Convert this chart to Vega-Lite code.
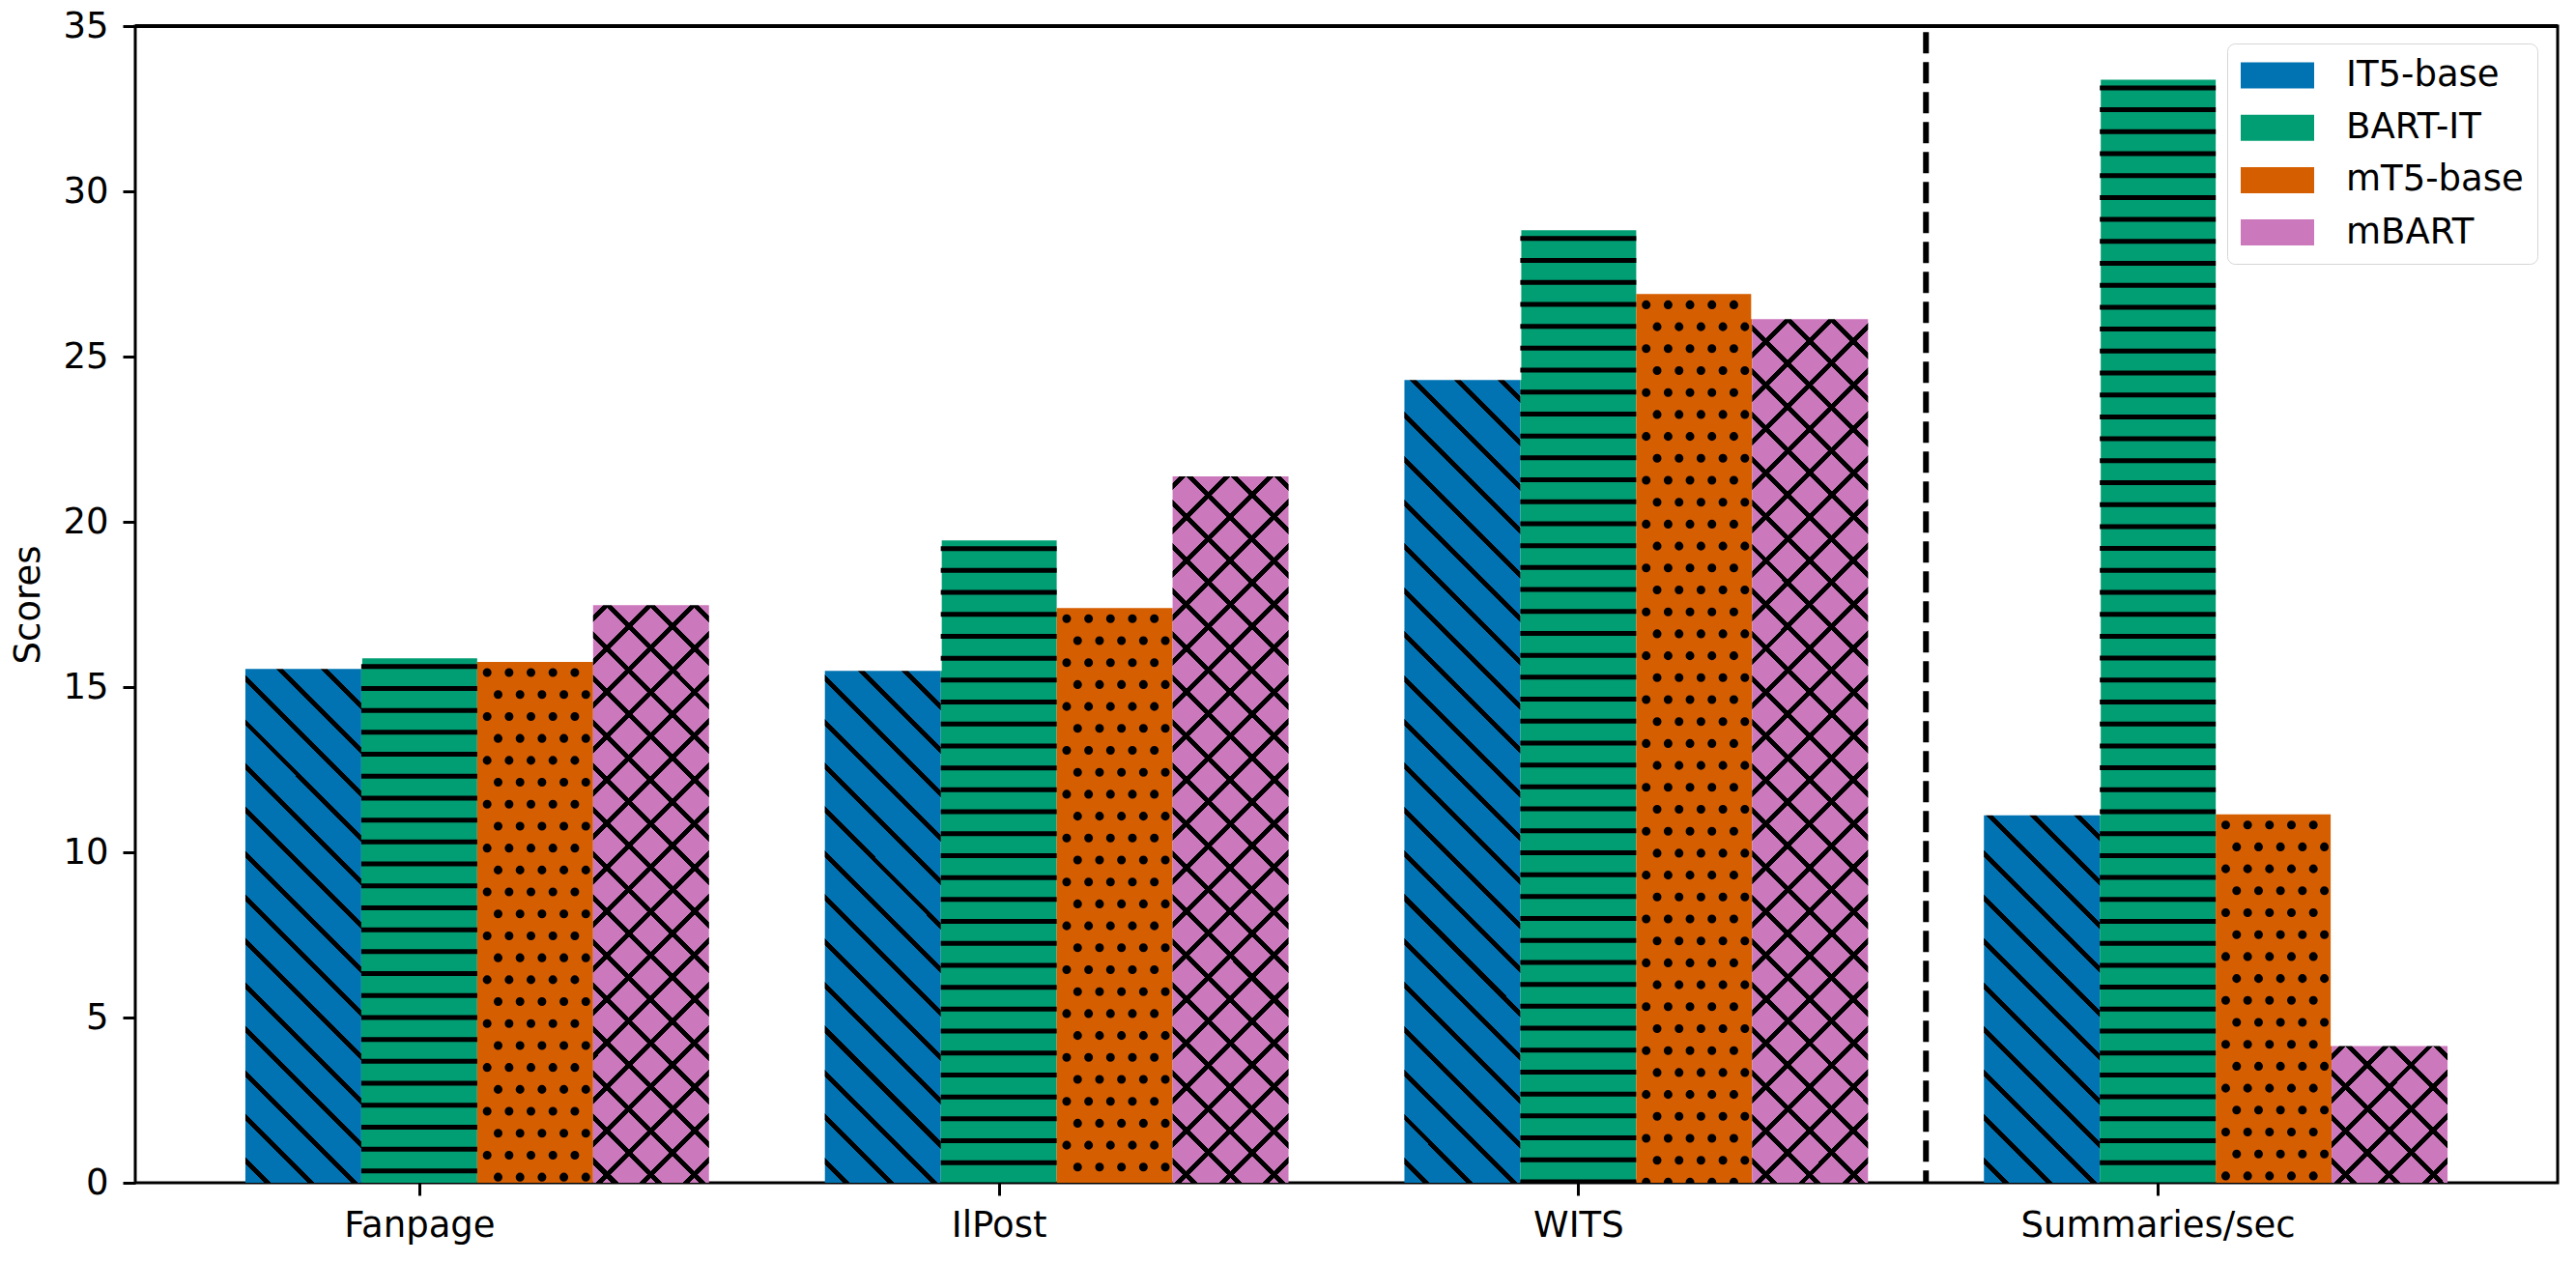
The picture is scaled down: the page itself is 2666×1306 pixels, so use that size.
{
  "$schema": "https://vega.github.io/schema/vega-lite/v6.json",
  "width": 2507,
  "height": 1197,
  "autosize": {"type": "none"},
  "padding": {"left": 140, "top": 27, "right": 19, "bottom": 82},
  "background": "white",
  "config": {
    "view": {"stroke": "#000", "strokeWidth": 3},
    "axis": {
      "labelFont": "DejaVu Sans", "labelFontSize": 37, "labelColor": "#000", "labelLimit": 1000,
      "titleFont": "DejaVu Sans", "titleFontSize": 37, "titleFontWeight": "normal", "titleColor": "#000",
      "tickColor": "#000", "tickWidth": 3, "tickSize": 13, "domain": false, "grid": false
    }
  },
  "data": {
    "values": [
      {"dataset": "Fanpage", "model": "IT5-base", "score": 15.58},
      {"dataset": "Fanpage", "model": "BART-IT", "score": 15.87},
      {"dataset": "Fanpage", "model": "mT5-base", "score": 15.76},
      {"dataset": "Fanpage", "model": "mBART", "score": 17.51},
      {"dataset": "IlPost", "model": "IT5-base", "score": 15.52},
      {"dataset": "IlPost", "model": "BART-IT", "score": 19.44},
      {"dataset": "IlPost", "model": "mT5-base", "score": 17.39},
      {"dataset": "IlPost", "model": "mBART", "score": 21.40},
      {"dataset": "WITS", "model": "IT5-base", "score": 24.32},
      {"dataset": "WITS", "model": "BART-IT", "score": 28.82},
      {"dataset": "WITS", "model": "mT5-base", "score": 26.89},
      {"dataset": "WITS", "model": "mBART", "score": 26.16},
      {"dataset": "Summaries/sec", "model": "IT5-base", "score": 11.15},
      {"dataset": "Summaries/sec", "model": "BART-IT", "score": 33.38},
      {"dataset": "Summaries/sec", "model": "mT5-base", "score": 11.15},
      {"dataset": "Summaries/sec", "model": "mBART", "score": 4.17}
    ]
  },
  "layer": [
    {
      "mark": {"type": "bar"},
      "encoding": {
        "x": {
          "field": "dataset", "type": "nominal", "title": null,
          "scale": {"domain": ["Fanpage", "IlPost", "WITS", "Summaries/sec"], "paddingInner": 0.2, "paddingOuter": 0.19},
          "axis": {"labelAngle": 0, "labelPadding": 13, "tickOffset": -60}
        },
        "xOffset": {
          "field": "model", "type": "nominal",
          "scale": {"domain": ["IT5-base", "BART-IT", "mT5-base", "mBART"], "paddingInner": 0, "paddingOuter": 0}
        },
        "y": {
          "field": "score", "type": "quantitative", "title": "Scores",
          "scale": {"domain": [0, 35], "nice": false},
          "axis": {"values": [0, 5, 10, 15, 20, 25, 30, 35], "labelPadding": 15, "titlePadding": 16}
        },
        "color": {
          "field": "model", "type": "nominal",
          "scale": {"domain": ["IT5-base", "BART-IT", "mT5-base", "mBART"], "range": ["#0173b2", "#029e73", "#d55e00", "#cc78bc"]},
          "legend": {
            "title": null, "orient": "none", "legendX": 2165, "legendY": 18,
            "labelFont": "DejaVu Sans", "labelFontSize": 37, "labelColor": "#000", "labelLimit": 1000,
            "symbolType": "M-1,-0.71H3V0.71H-1Z", "symbolSize": 1444, "symbolStrokeWidth": 0,
            "labelOffset": 71, "rowPadding": 17.2, "padding": 14,
            "strokeColor": "#d6d6d6", "fillColor": "#fff", "cornerRadius": 8
          }
        }
      }
    },
    {
      "transform": [{"filter": "datum.model === 'IT5-base' || datum.model === 'mBART'"}],
      "mark": {
        "type": "bar",
        "fill": {
          "gradient": "linear", "x1": 0, "y1": 1, "x2": 0.1092, "y2": -0.0893,
          "stops": [
            {"offset": 0.0145, "color": "rgba(0,0,0,0)"}, {"offset": 0.0145, "color": "#000"}, {"offset": 0.0199, "color": "#000"}, {"offset": 0.0199, "color": "rgba(0,0,0,0)"},
            {"offset": 0.0490, "color": "rgba(0,0,0,0)"}, {"offset": 0.0490, "color": "#000"}, {"offset": 0.0543, "color": "#000"}, {"offset": 0.0543, "color": "rgba(0,0,0,0)"},
            {"offset": 0.0835, "color": "rgba(0,0,0,0)"}, {"offset": 0.0835, "color": "#000"}, {"offset": 0.0888, "color": "#000"}, {"offset": 0.0888, "color": "rgba(0,0,0,0)"},
            {"offset": 0.1179, "color": "rgba(0,0,0,0)"}, {"offset": 0.1179, "color": "#000"}, {"offset": 0.1233, "color": "#000"}, {"offset": 0.1233, "color": "rgba(0,0,0,0)"},
            {"offset": 0.1524, "color": "rgba(0,0,0,0)"}, {"offset": 0.1524, "color": "#000"}, {"offset": 0.1577, "color": "#000"}, {"offset": 0.1577, "color": "rgba(0,0,0,0)"},
            {"offset": 0.1869, "color": "rgba(0,0,0,0)"}, {"offset": 0.1869, "color": "#000"}, {"offset": 0.1922, "color": "#000"}, {"offset": 0.1922, "color": "rgba(0,0,0,0)"},
            {"offset": 0.2213, "color": "rgba(0,0,0,0)"}, {"offset": 0.2213, "color": "#000"}, {"offset": 0.2267, "color": "#000"}, {"offset": 0.2267, "color": "rgba(0,0,0,0)"},
            {"offset": 0.2558, "color": "rgba(0,0,0,0)"}, {"offset": 0.2558, "color": "#000"}, {"offset": 0.2611, "color": "#000"}, {"offset": 0.2611, "color": "rgba(0,0,0,0)"},
            {"offset": 0.2903, "color": "rgba(0,0,0,0)"}, {"offset": 0.2903, "color": "#000"}, {"offset": 0.2956, "color": "#000"}, {"offset": 0.2956, "color": "rgba(0,0,0,0)"},
            {"offset": 0.3247, "color": "rgba(0,0,0,0)"}, {"offset": 0.3247, "color": "#000"}, {"offset": 0.3300, "color": "#000"}, {"offset": 0.3300, "color": "rgba(0,0,0,0)"},
            {"offset": 0.3592, "color": "rgba(0,0,0,0)"}, {"offset": 0.3592, "color": "#000"}, {"offset": 0.3645, "color": "#000"}, {"offset": 0.3645, "color": "rgba(0,0,0,0)"},
            {"offset": 0.3937, "color": "rgba(0,0,0,0)"}, {"offset": 0.3937, "color": "#000"}, {"offset": 0.3990, "color": "#000"}, {"offset": 0.3990, "color": "rgba(0,0,0,0)"},
            {"offset": 0.4281, "color": "rgba(0,0,0,0)"}, {"offset": 0.4281, "color": "#000"}, {"offset": 0.4334, "color": "#000"}, {"offset": 0.4334, "color": "rgba(0,0,0,0)"},
            {"offset": 0.4626, "color": "rgba(0,0,0,0)"}, {"offset": 0.4626, "color": "#000"}, {"offset": 0.4679, "color": "#000"}, {"offset": 0.4679, "color": "rgba(0,0,0,0)"},
            {"offset": 0.4971, "color": "rgba(0,0,0,0)"}, {"offset": 0.4971, "color": "#000"}, {"offset": 0.5024, "color": "#000"}, {"offset": 0.5024, "color": "rgba(0,0,0,0)"},
            {"offset": 0.5315, "color": "rgba(0,0,0,0)"}, {"offset": 0.5315, "color": "#000"}, {"offset": 0.5368, "color": "#000"}, {"offset": 0.5368, "color": "rgba(0,0,0,0)"},
            {"offset": 0.5660, "color": "rgba(0,0,0,0)"}, {"offset": 0.5660, "color": "#000"}, {"offset": 0.5713, "color": "#000"}, {"offset": 0.5713, "color": "rgba(0,0,0,0)"},
            {"offset": 0.6004, "color": "rgba(0,0,0,0)"}, {"offset": 0.6004, "color": "#000"}, {"offset": 0.6058, "color": "#000"}, {"offset": 0.6058, "color": "rgba(0,0,0,0)"},
            {"offset": 0.6349, "color": "rgba(0,0,0,0)"}, {"offset": 0.6349, "color": "#000"}, {"offset": 0.6402, "color": "#000"}, {"offset": 0.6402, "color": "rgba(0,0,0,0)"},
            {"offset": 0.6694, "color": "rgba(0,0,0,0)"}, {"offset": 0.6694, "color": "#000"}, {"offset": 0.6747, "color": "#000"}, {"offset": 0.6747, "color": "rgba(0,0,0,0)"},
            {"offset": 0.7038, "color": "rgba(0,0,0,0)"}, {"offset": 0.7038, "color": "#000"}, {"offset": 0.7092, "color": "#000"}, {"offset": 0.7092, "color": "rgba(0,0,0,0)"},
            {"offset": 0.7383, "color": "rgba(0,0,0,0)"}, {"offset": 0.7383, "color": "#000"}, {"offset": 0.7436, "color": "#000"}, {"offset": 0.7436, "color": "rgba(0,0,0,0)"},
            {"offset": 0.7728, "color": "rgba(0,0,0,0)"}, {"offset": 0.7728, "color": "#000"}, {"offset": 0.7781, "color": "#000"}, {"offset": 0.7781, "color": "rgba(0,0,0,0)"},
            {"offset": 0.8072, "color": "rgba(0,0,0,0)"}, {"offset": 0.8072, "color": "#000"}, {"offset": 0.8126, "color": "#000"}, {"offset": 0.8126, "color": "rgba(0,0,0,0)"},
            {"offset": 0.8417, "color": "rgba(0,0,0,0)"}, {"offset": 0.8417, "color": "#000"}, {"offset": 0.8470, "color": "#000"}, {"offset": 0.8470, "color": "rgba(0,0,0,0)"},
            {"offset": 0.8762, "color": "rgba(0,0,0,0)"}, {"offset": 0.8762, "color": "#000"}, {"offset": 0.8815, "color": "#000"}, {"offset": 0.8815, "color": "rgba(0,0,0,0)"},
            {"offset": 0.9106, "color": "rgba(0,0,0,0)"}, {"offset": 0.9106, "color": "#000"}, {"offset": 0.9159, "color": "#000"}, {"offset": 0.9159, "color": "rgba(0,0,0,0)"},
            {"offset": 0.9451, "color": "rgba(0,0,0,0)"}, {"offset": 0.9451, "color": "#000"}, {"offset": 0.9504, "color": "#000"}, {"offset": 0.9504, "color": "rgba(0,0,0,0)"},
            {"offset": 0.9796, "color": "rgba(0,0,0,0)"}, {"offset": 0.9796, "color": "#000"}, {"offset": 0.9849, "color": "#000"}, {"offset": 0.9849, "color": "rgba(0,0,0,0)"}
          ]
        }
      },
      "encoding": {
        "x": {"field": "dataset", "type": "nominal", "title": null},
        "xOffset": {"field": "model", "type": "nominal"},
        "y": {"datum": 35, "type": "quantitative", "title": "Scores"}
      }
    },
    {
      "transform": [{"filter": "datum.model === 'mBART'"}],
      "mark": {
        "type": "bar",
        "fill": {
          "gradient": "linear", "x1": 0, "y1": 0, "x2": 0.1092, "y2": 1.0893,
          "stops": [
            {"offset": 0.0145, "color": "rgba(0,0,0,0)"}, {"offset": 0.0145, "color": "#000"}, {"offset": 0.0199, "color": "#000"}, {"offset": 0.0199, "color": "rgba(0,0,0,0)"},
            {"offset": 0.0490, "color": "rgba(0,0,0,0)"}, {"offset": 0.0490, "color": "#000"}, {"offset": 0.0543, "color": "#000"}, {"offset": 0.0543, "color": "rgba(0,0,0,0)"},
            {"offset": 0.0835, "color": "rgba(0,0,0,0)"}, {"offset": 0.0835, "color": "#000"}, {"offset": 0.0888, "color": "#000"}, {"offset": 0.0888, "color": "rgba(0,0,0,0)"},
            {"offset": 0.1179, "color": "rgba(0,0,0,0)"}, {"offset": 0.1179, "color": "#000"}, {"offset": 0.1233, "color": "#000"}, {"offset": 0.1233, "color": "rgba(0,0,0,0)"},
            {"offset": 0.1524, "color": "rgba(0,0,0,0)"}, {"offset": 0.1524, "color": "#000"}, {"offset": 0.1577, "color": "#000"}, {"offset": 0.1577, "color": "rgba(0,0,0,0)"},
            {"offset": 0.1869, "color": "rgba(0,0,0,0)"}, {"offset": 0.1869, "color": "#000"}, {"offset": 0.1922, "color": "#000"}, {"offset": 0.1922, "color": "rgba(0,0,0,0)"},
            {"offset": 0.2213, "color": "rgba(0,0,0,0)"}, {"offset": 0.2213, "color": "#000"}, {"offset": 0.2267, "color": "#000"}, {"offset": 0.2267, "color": "rgba(0,0,0,0)"},
            {"offset": 0.2558, "color": "rgba(0,0,0,0)"}, {"offset": 0.2558, "color": "#000"}, {"offset": 0.2611, "color": "#000"}, {"offset": 0.2611, "color": "rgba(0,0,0,0)"},
            {"offset": 0.2903, "color": "rgba(0,0,0,0)"}, {"offset": 0.2903, "color": "#000"}, {"offset": 0.2956, "color": "#000"}, {"offset": 0.2956, "color": "rgba(0,0,0,0)"},
            {"offset": 0.3247, "color": "rgba(0,0,0,0)"}, {"offset": 0.3247, "color": "#000"}, {"offset": 0.3300, "color": "#000"}, {"offset": 0.3300, "color": "rgba(0,0,0,0)"},
            {"offset": 0.3592, "color": "rgba(0,0,0,0)"}, {"offset": 0.3592, "color": "#000"}, {"offset": 0.3645, "color": "#000"}, {"offset": 0.3645, "color": "rgba(0,0,0,0)"},
            {"offset": 0.3937, "color": "rgba(0,0,0,0)"}, {"offset": 0.3937, "color": "#000"}, {"offset": 0.3990, "color": "#000"}, {"offset": 0.3990, "color": "rgba(0,0,0,0)"},
            {"offset": 0.4281, "color": "rgba(0,0,0,0)"}, {"offset": 0.4281, "color": "#000"}, {"offset": 0.4334, "color": "#000"}, {"offset": 0.4334, "color": "rgba(0,0,0,0)"},
            {"offset": 0.4626, "color": "rgba(0,0,0,0)"}, {"offset": 0.4626, "color": "#000"}, {"offset": 0.4679, "color": "#000"}, {"offset": 0.4679, "color": "rgba(0,0,0,0)"},
            {"offset": 0.4971, "color": "rgba(0,0,0,0)"}, {"offset": 0.4971, "color": "#000"}, {"offset": 0.5024, "color": "#000"}, {"offset": 0.5024, "color": "rgba(0,0,0,0)"},
            {"offset": 0.5315, "color": "rgba(0,0,0,0)"}, {"offset": 0.5315, "color": "#000"}, {"offset": 0.5368, "color": "#000"}, {"offset": 0.5368, "color": "rgba(0,0,0,0)"},
            {"offset": 0.5660, "color": "rgba(0,0,0,0)"}, {"offset": 0.5660, "color": "#000"}, {"offset": 0.5713, "color": "#000"}, {"offset": 0.5713, "color": "rgba(0,0,0,0)"},
            {"offset": 0.6004, "color": "rgba(0,0,0,0)"}, {"offset": 0.6004, "color": "#000"}, {"offset": 0.6058, "color": "#000"}, {"offset": 0.6058, "color": "rgba(0,0,0,0)"},
            {"offset": 0.6349, "color": "rgba(0,0,0,0)"}, {"offset": 0.6349, "color": "#000"}, {"offset": 0.6402, "color": "#000"}, {"offset": 0.6402, "color": "rgba(0,0,0,0)"},
            {"offset": 0.6694, "color": "rgba(0,0,0,0)"}, {"offset": 0.6694, "color": "#000"}, {"offset": 0.6747, "color": "#000"}, {"offset": 0.6747, "color": "rgba(0,0,0,0)"},
            {"offset": 0.7038, "color": "rgba(0,0,0,0)"}, {"offset": 0.7038, "color": "#000"}, {"offset": 0.7092, "color": "#000"}, {"offset": 0.7092, "color": "rgba(0,0,0,0)"},
            {"offset": 0.7383, "color": "rgba(0,0,0,0)"}, {"offset": 0.7383, "color": "#000"}, {"offset": 0.7436, "color": "#000"}, {"offset": 0.7436, "color": "rgba(0,0,0,0)"},
            {"offset": 0.7728, "color": "rgba(0,0,0,0)"}, {"offset": 0.7728, "color": "#000"}, {"offset": 0.7781, "color": "#000"}, {"offset": 0.7781, "color": "rgba(0,0,0,0)"},
            {"offset": 0.8072, "color": "rgba(0,0,0,0)"}, {"offset": 0.8072, "color": "#000"}, {"offset": 0.8126, "color": "#000"}, {"offset": 0.8126, "color": "rgba(0,0,0,0)"},
            {"offset": 0.8417, "color": "rgba(0,0,0,0)"}, {"offset": 0.8417, "color": "#000"}, {"offset": 0.8470, "color": "#000"}, {"offset": 0.8470, "color": "rgba(0,0,0,0)"},
            {"offset": 0.8762, "color": "rgba(0,0,0,0)"}, {"offset": 0.8762, "color": "#000"}, {"offset": 0.8815, "color": "#000"}, {"offset": 0.8815, "color": "rgba(0,0,0,0)"},
            {"offset": 0.9106, "color": "rgba(0,0,0,0)"}, {"offset": 0.9106, "color": "#000"}, {"offset": 0.9159, "color": "#000"}, {"offset": 0.9159, "color": "rgba(0,0,0,0)"},
            {"offset": 0.9451, "color": "rgba(0,0,0,0)"}, {"offset": 0.9451, "color": "#000"}, {"offset": 0.9504, "color": "#000"}, {"offset": 0.9504, "color": "rgba(0,0,0,0)"},
            {"offset": 0.9796, "color": "rgba(0,0,0,0)"}, {"offset": 0.9796, "color": "#000"}, {"offset": 0.9849, "color": "#000"}, {"offset": 0.9849, "color": "rgba(0,0,0,0)"}
          ]
        }
      },
      "encoding": {
        "x": {"field": "dataset", "type": "nominal", "title": null},
        "xOffset": {"field": "model", "type": "nominal"},
        "y": {"datum": 35, "type": "quantitative", "title": "Scores"}
      }
    },
    {
      "transform": [{"filter": "datum.model === 'IT5-base' || datum.model === 'mBART'"}],
      "mark": {"type": "bar", "fill": "#fff", "stroke": "#fff", "strokeWidth": 2},
      "encoding": {
        "x": {"field": "dataset", "type": "nominal", "title": null},
        "xOffset": {"field": "model", "type": "nominal"},
        "y": {"field": "score", "type": "quantitative", "title": "Scores"},
        "y2": {"datum": 35}
      }
    },
    {
      "transform": [{"filter": "datum.model === 'BART-IT'"}],
      "mark": {"type": "rule", "color": "#000", "strokeWidth": 120, "strokeDash": [5, 17.7], "strokeDashOffset": 16.7},
      "encoding": {
        "x": {"field": "dataset", "type": "nominal", "bandPosition": 0.375, "title": null},
        "y": {"field": "score", "type": "quantitative", "title": "Scores"},
        "y2": {"datum": 0}
      }
    },
    {
      "transform": [{"filter": "datum.model === 'mT5-base'"}],
      "mark": {"type": "rule", "clip": true, "color": "#000", "strokeWidth": 9, "strokeCap": "round", "strokeDash": [0.1, 45.3], "strokeDashOffset": 34.4},
      "encoding": {"x": {"field": "dataset", "type": "nominal", "bandPosition": 0.5215, "title": null}, "y": {"field": "score", "type": "quantitative", "title": "Scores"}, "y2": {"datum": 0}}
    },
    {
      "transform": [{"filter": "datum.model === 'mT5-base'"}],
      "mark": {"type": "rule", "clip": true, "color": "#000", "strokeWidth": 9, "strokeCap": "round", "strokeDash": [0.1, 45.3], "strokeDashOffset": 34.4},
      "encoding": {"x": {"field": "dataset", "type": "nominal", "bandPosition": 0.5688, "title": null}, "y": {"field": "score", "type": "quantitative", "title": "Scores"}, "y2": {"datum": 0}}
    },
    {
      "transform": [{"filter": "datum.model === 'mT5-base'"}],
      "mark": {"type": "rule", "clip": true, "color": "#000", "strokeWidth": 9, "strokeCap": "round", "strokeDash": [0.1, 45.3], "strokeDashOffset": 34.4},
      "encoding": {"x": {"field": "dataset", "type": "nominal", "bandPosition": 0.6160, "title": null}, "y": {"field": "score", "type": "quantitative", "title": "Scores"}, "y2": {"datum": 0}}
    },
    {
      "transform": [{"filter": "datum.model === 'mT5-base'"}],
      "mark": {"type": "rule", "clip": true, "color": "#000", "strokeWidth": 9, "strokeCap": "round", "strokeDash": [0.1, 45.3], "strokeDashOffset": 34.4},
      "encoding": {"x": {"field": "dataset", "type": "nominal", "bandPosition": 0.6633, "title": null}, "y": {"field": "score", "type": "quantitative", "title": "Scores"}, "y2": {"datum": 0}}
    },
    {
      "transform": [{"filter": "datum.model === 'mT5-base'"}],
      "mark": {"type": "rule", "clip": true, "color": "#000", "strokeWidth": 9, "strokeCap": "round", "strokeDash": [0.1, 45.3], "strokeDashOffset": 34.4},
      "encoding": {"x": {"field": "dataset", "type": "nominal", "bandPosition": 0.7106, "title": null}, "y": {"field": "score", "type": "quantitative", "title": "Scores"}, "y2": {"datum": 0}}
    },
    {
      "transform": [{"filter": "datum.model === 'mT5-base'"}],
      "mark": {"type": "rule", "clip": true, "color": "#000", "strokeWidth": 9, "strokeCap": "round", "strokeDash": [0.1, 45.3], "strokeDashOffset": 11.7},
      "encoding": {"x": {"field": "dataset", "type": "nominal", "bandPosition": 0.5451, "title": null}, "y": {"field": "score", "type": "quantitative", "title": "Scores"}, "y2": {"datum": 0}}
    },
    {
      "transform": [{"filter": "datum.model === 'mT5-base'"}],
      "mark": {"type": "rule", "clip": true, "color": "#000", "strokeWidth": 9, "strokeCap": "round", "strokeDash": [0.1, 45.3], "strokeDashOffset": 11.7},
      "encoding": {"x": {"field": "dataset", "type": "nominal", "bandPosition": 0.5924, "title": null}, "y": {"field": "score", "type": "quantitative", "title": "Scores"}, "y2": {"datum": 0}}
    },
    {
      "transform": [{"filter": "datum.model === 'mT5-base'"}],
      "mark": {"type": "rule", "clip": true, "color": "#000", "strokeWidth": 9, "strokeCap": "round", "strokeDash": [0.1, 45.3], "strokeDashOffset": 11.7},
      "encoding": {"x": {"field": "dataset", "type": "nominal", "bandPosition": 0.6397, "title": null}, "y": {"field": "score", "type": "quantitative", "title": "Scores"}, "y2": {"datum": 0}}
    },
    {
      "transform": [{"filter": "datum.model === 'mT5-base'"}],
      "mark": {"type": "rule", "clip": true, "color": "#000", "strokeWidth": 9, "strokeCap": "round", "strokeDash": [0.1, 45.3], "strokeDashOffset": 11.7},
      "encoding": {"x": {"field": "dataset", "type": "nominal", "bandPosition": 0.6870, "title": null}, "y": {"field": "score", "type": "quantitative", "title": "Scores"}, "y2": {"datum": 0}}
    },
    {
      "transform": [{"filter": "datum.model === 'mT5-base'"}],
      "mark": {"type": "rule", "clip": true, "color": "#000", "strokeWidth": 9, "strokeCap": "round", "strokeDash": [0.1, 45.3], "strokeDashOffset": 11.7},
      "encoding": {"x": {"field": "dataset", "type": "nominal", "bandPosition": 0.7343, "title": null}, "y": {"field": "score", "type": "quantitative", "title": "Scores"}, "y2": {"datum": 0}}
    },
    {
      "transform": [{"filter": "datum.dataset === 'WITS' && datum.model === 'mBART'"}],
      "mark": {"type": "rule", "color": "#000", "strokeWidth": 6, "strokeDash": [22, 9], "strokeDashOffset": 24.7},
      "encoding": {"x": {"field": "dataset", "type": "nominal", "bandPosition": 1.125, "title": null}}
    },
    {
      "mark": {"type": "rule", "color": "#000", "strokeWidth": 3},
      "encoding": {"y": {"datum": 35, "type": "quantitative", "title": "Scores"}}
    }
  ]
}
